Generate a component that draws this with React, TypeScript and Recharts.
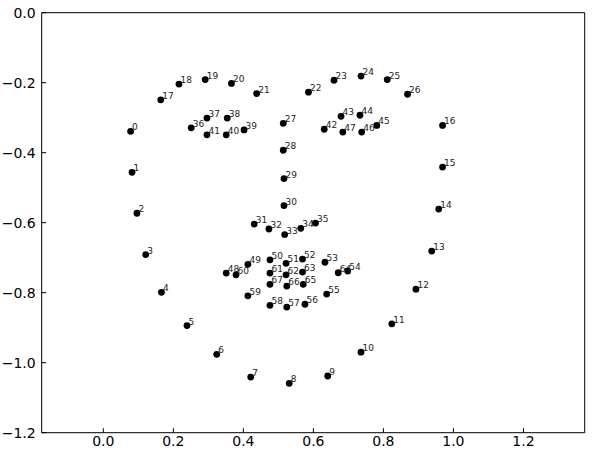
import React from 'react';
import { ScatterChart, Scatter, XAxis, YAxis } from 'recharts';

// 68 face landmarks, index = label
const landmarkX = [
  0.078, 0.082, 0.096, 0.121, 0.166, 0.239, 0.324, 0.421, 0.531, 0.641,
  0.736, 0.824, 0.893, 0.938, 0.958, 0.969, 0.969, 0.164, 0.216, 0.291,
  0.366, 0.438, 0.586, 0.659, 0.736, 0.811, 0.869, 0.514, 0.514, 0.516,
  0.516, 0.431, 0.473, 0.518, 0.564, 0.606, 0.251, 0.296, 0.354, 0.402,
  0.351, 0.296, 0.631, 0.679, 0.733, 0.781, 0.738, 0.684, 0.351, 0.413,
  0.476, 0.522, 0.569, 0.633, 0.698, 0.638, 0.576, 0.524, 0.476, 0.413,
  0.379, 0.476, 0.522, 0.569, 0.671, 0.571, 0.524, 0.476,
];
const landmarkY = [
  -0.339, -0.456, -0.573, -0.691, -0.799, -0.894, -0.976, -1.041, -1.059, -1.038,
  -0.970, -0.889, -0.790, -0.681, -0.561, -0.441, -0.322, -0.249, -0.204, -0.191,
  -0.202, -0.231, -0.227, -0.193, -0.181, -0.191, -0.233, -0.316, -0.393, -0.474,
  -0.551, -0.604, -0.618, -0.634, -0.616, -0.601, -0.329, -0.301, -0.301, -0.335,
  -0.349, -0.349, -0.333, -0.296, -0.293, -0.322, -0.341, -0.341, -0.744, -0.719,
  -0.706, -0.716, -0.704, -0.713, -0.738, -0.804, -0.833, -0.841, -0.836, -0.809,
  -0.749, -0.744, -0.749, -0.741, -0.743, -0.776, -0.781, -0.776,
];

const xTicks = [0, 0.2, 0.4, 0.6, 0.8, 1.0, 1.2];
const yTicks = [0, -0.2, -0.4, -0.6, -0.8, -1.0, -1.2];

const points = landmarkX.map((x, i) => ({ x, y: landmarkY[i], id: i }));

const FONT = 'DejaVu Sans';
// negative size = matplotlib-style ticks pointing into the plot
const TICK_IN = -4.5;

const fmt = (v: number) => (v < 0 ? '\u2212' : '') + Math.abs(v).toFixed(1);

const BottomTick = ({ x, y, payload }: any) => (
  <text x={x} y={y + 13.5} textAnchor="middle" fontSize={14} fontFamily={FONT} fill="#000">
    {fmt(payload.value)}
  </text>
);

const LeftTick = ({ x, y, payload }: any) => (
  <text x={x - 6} y={y + 5} textAnchor="end" fontSize={14} fontFamily={FONT} fill="#000">
    {fmt(payload.value)}
  </text>
);

const Landmark = (props: any) => {
  const { cx, cy, payload } = props;
  return (
    <g>
      <circle cx={cx} cy={cy} r={3.4} fill="#000" />
      <text x={cx + 1.5} y={cy - 1} fontSize={9} fontFamily={FONT} fill="#222">
        {payload.id}
      </text>
    </g>
  );
};

const frame = { stroke: '#000', strokeWidth: 1 };

export default function App() {
  const xDomain: [number, number] = [-0.176, 1.375];
  const yDomain: [number, number] = [-1.2, 0];
  return (
    <div style={{ position: 'absolute', left: 0, top: 0, background: '#fff' }}>
      <ScatterChart width={593} height={452} margin={{ top: 11.7, right: 7.3, bottom: 0, left: 0 }}>
        <XAxis
          xAxisId="bottom"
          type="number"
          dataKey="x"
          domain={xDomain}
          ticks={xTicks}
          allowDataOverflow
          orientation="bottom"
          height={19.3}
          tickSize={TICK_IN}
          tickMargin={4.5}
          tick={<BottomTick />}
          tickLine={frame}
          axisLine={frame}
          interval={0}
        />
        <XAxis
          xAxisId="top"
          type="number"
          dataKey="x"
          domain={xDomain}
          ticks={xTicks}
          allowDataOverflow
          orientation="top"
          height={1}
          tickSize={TICK_IN}
          tick={false}
          tickLine={frame}
          axisLine={frame}
          interval={0}
        />
        <YAxis
          yAxisId="left"
          type="number"
          dataKey="y"
          domain={yDomain}
          ticks={yTicks}
          allowDataOverflow
          orientation="left"
          width={41.7}
          tickSize={TICK_IN}
          tickMargin={4.5}
          tick={<LeftTick />}
          tickLine={frame}
          axisLine={frame}
          interval={0}
        />
        <YAxis
          yAxisId="right"
          type="number"
          dataKey="y"
          domain={yDomain}
          ticks={yTicks}
          allowDataOverflow
          orientation="right"
          width={1}
          tickSize={TICK_IN}
          tick={false}
          tickLine={frame}
          axisLine={frame}
          interval={0}
        />
        <Scatter
          data={points}
          xAxisId="bottom"
          yAxisId="left"
          shape={<Landmark />}
          isAnimationActive={false}
        />
        <Scatter
          data={points}
          xAxisId="top"
          yAxisId="right"
          shape={() => <g />}
          isAnimationActive={false}
        />
      </ScatterChart>
    </div>
  );
}
